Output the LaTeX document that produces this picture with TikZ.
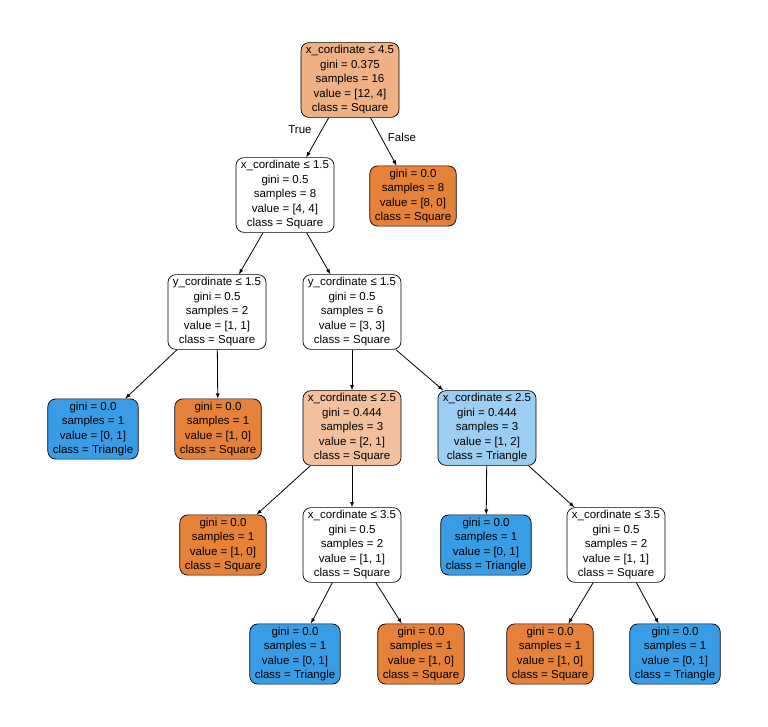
\documentclass[tikz,border=0pt]{standalone}
\usepackage{fontspec}
\setmainfont{Liberation Sans}
\begin{document}
\begin{tikzpicture}[x=1pt,y=-1pt,
  n/.style={draw,rounded corners=8pt,align=center,font=\fontsize{11.5}{14.5}\selectfont,inner xsep=5pt,inner ysep=3pt,line width=0.7pt},
  e/.style={-latex,line width=0.8pt},
  lab/.style={font=\fontsize{11.5}{14}\selectfont}]
\definecolor{or}{HTML}{E58139}
\definecolor{bl}{HTML}{399DE5}
\definecolor{rt}{HTML}{EFB083}
\definecolor{lo}{HTML}{F2C09C}
\definecolor{lb}{HTML}{9CCEF2}
\useasboundingbox (0,0) rectangle (768,727);
\node[n,fill=rt] (r) at (350,80) {x\_cordinate ≤ 4.5\\gini = 0.375\\samples = 16\\value = [12, 4]\\class = Square};
\node[n,fill=or] (f) at (413,196) {gini = 0.0\\samples = 8\\value = [8, 0]\\class = Square};
\node[n,fill=white] (a) at (285,195) {x\_cordinate ≤ 1.5\\gini = 0.5\\samples = 8\\value = [4, 4]\\class = Square};
\node[n,fill=white] (b) at (217,312) {y\_cordinate ≤ 1.5\\gini = 0.5\\samples = 2\\value = [1, 1]\\class = Square};
\node[n,fill=white] (c) at (352,312) {y\_cordinate ≤ 1.5\\gini = 0.5\\samples = 6\\value = [3, 3]\\class = Square};
\node[n,fill=bl] (b1) at (93,429) {gini = 0.0\\samples = 1\\value = [0, 1]\\class = Triangle};
\node[n,fill=or] (b2) at (218,429) {gini = 0.0\\samples = 1\\value = [1, 0]\\class = Square};
\node[n,fill=lo] (c1) at (352,428) {x\_cordinate ≤ 2.5\\gini = 0.444\\samples = 3\\value = [2, 1]\\class = Square};
\node[n,fill=lb] (c2) at (487,428) {x\_cordinate ≤ 2.5\\gini = 0.444\\samples = 3\\value = [1, 2]\\class = Triangle};
\node[n,fill=or] (d1) at (223,545) {gini = 0.0\\samples = 1\\value = [1, 0]\\class = Square};
\node[n,fill=white] (d2) at (352,545) {x\_cordinate ≤ 3.5\\gini = 0.5\\samples = 2\\value = [1, 1]\\class = Square};
\node[n,fill=bl] (d3) at (486,545) {gini = 0.0\\samples = 1\\value = [0, 1]\\class = Triangle};
\node[n,fill=white] (d4) at (616,545) {x\_cordinate ≤ 3.5\\gini = 0.5\\samples = 2\\value = [1, 1]\\class = Square};
\node[n,fill=bl] (e1) at (295,654) {gini = 0.0\\samples = 1\\value = [0, 1]\\class = Triangle};
\node[n,fill=or] (e2) at (421,654) {gini = 0.0\\samples = 1\\value = [1, 0]\\class = Square};
\node[n,fill=or] (e3) at (550,654) {gini = 0.0\\samples = 1\\value = [1, 0]\\class = Square};
\node[n,fill=bl] (e4) at (675,654) {gini = 0.0\\samples = 1\\value = [0, 1]\\class = Triangle};
\draw[e] (r) -- (a);
\draw[e] (r) -- (f);
\node[lab] (t) at (300,130) {True};
\node[lab] (fl) at (402,137) {False};
\draw[e] (a) -- (b);
\draw[e] (a) -- (c);
\draw[e] (b) -- (b1);
\draw[e] (b) -- (b2);
\draw[e] (c) -- (c1);
\draw[e] (c) -- (c2);
\draw[e] (c1) -- (d1);
\draw[e] (c1) -- (d2);
\draw[e] (c2) -- (d3);
\draw[e] (c2) -- (d4);
\draw[e] (d2) -- (e1);
\draw[e] (d2) -- (e2);
\draw[e] (d4) -- (e3);
\draw[e] (d4) -- (e4);
\end{tikzpicture}
\end{document}
